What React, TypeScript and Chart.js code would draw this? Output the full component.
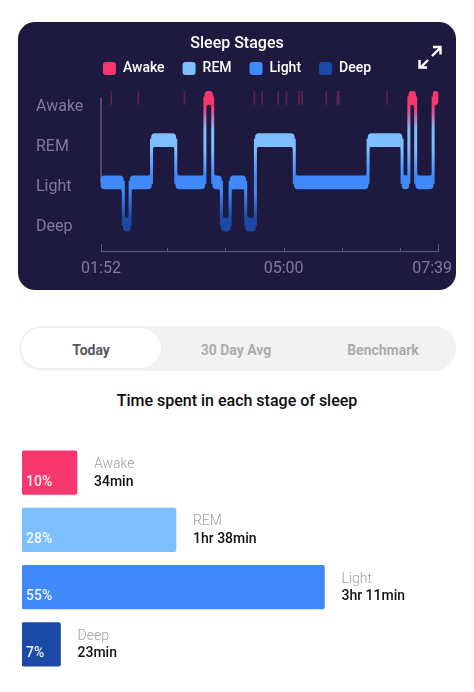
import React, { useEffect, useRef } from "react";
import { Chart, registerables } from "chart.js";

Chart.register(...registerables);

// ---- data -----
const stageNames = ["Deep", "Light", "REM", "Awake"];
const legendOrder = ["Awake", "REM", "Light", "Deep"];
const stageColors: Record<string, string> = {
  Awake: "#f7386f",
  REM: "#7dbeff",
  Light: "#4089fb",
  Deep: "#1a4aa5",
};
// minutes since midnight at which each sleep segment starts
const segmentStarts = [112, 135, 142, 164, 189, 219, 227, 236, 245, 261, 271, 311, 387, 422, 429, 436, 454];
const segmentStages = ["Light", "Deep", "Light", "REM", "Light", "Awake", "Light", "Deep", "Light", "Deep", "REM", "Light", "REM", "Light", "Awake", "Light", "Awake"];
const sessionEnd = 459;
const briefAwakeStarts = [122, 150, 197.5, 269.5, 277.5, 294, 302.5, 315.5, 318.5, 343.5, 355, 406];
const briefAwakeLengths = [1, 1, 1, 1, 1, 1, 1, 1, 1, 1, 2.4, 1];
const hourTicks = [112, 180, 240, 300, 360, 420, 459];
const timeLabels: Record<number, string> = { 112: "01:52", 300: "05:00", 453: "07:39" };

const summaryStages = ["Awake", "REM", "Light", "Deep"];
const summaryPercents = [10, 28, 55, 7];
const summaryDurations = ["34min", "1hr 38min", "3hr 11min", "23min"];

const tabs = ["Today", "30 Day Avg", "Benchmark"];

const level = (s: string) => stageNames.indexOf(s);
const segEnd = (i: number) => (i + 1 < segmentStarts.length ? segmentStarts[i + 1] : sessionEnd);

const bandHeight = 13;
const connectorWidth = 3;

const upTicksPlugin = {
  id: "upTicks",
  afterDatasetsDraw(chart: any) {
    const x = chart.scales.x;
    const bottom = chart.chartArea.bottom;
    const c = chart.ctx;
    c.save();
    c.strokeStyle = "#5f5b7c";
    c.lineWidth = 1;
    hourTicks.forEach((t, i) => {
      const px = Math.round(x.getPixelForValue(t)) + 0.5;
      const len = i === 0 || i === hourTicks.length - 1 ? 7 : 3;
      c.beginPath();
      c.moveTo(px, bottom);
      c.lineTo(px, bottom - len);
      c.stroke();
    });
    c.restore();
  },
};

// concave shoulders where each vertical connector meets the two bands
const filletPlugin = {
  id: "fillets",
  afterDatasetsDraw(chart: any) {
    const xs = chart.scales.x;
    const ys = chart.scales.yData;
    const c = chart.ctx;
    const r = 4;
    const corner = (x: number, y: number, dirX: number, dirY: number, colour: string) => {
      c.fillStyle = colour;
      c.beginPath();
      c.moveTo(x, y);
      c.lineTo(x + dirX * r, y);
      c.quadraticCurveTo(x, y, x, y + dirY * r);
      c.closePath();
      c.fill();
    };
    c.save();
    for (let i = 1; i < segmentStarts.length; i++) {
      const prev = segmentStages[i - 1];
      const cur = segmentStages[i];
      const px = xs.getPixelForValue(segmentStarts[i]);
      const curIsUpper = level(cur) > level(prev);
      const upper = curIsUpper ? cur : prev;
      const lower = curIsUpper ? prev : cur;
      const upperSide = curIsUpper ? 1 : -1;
      const upperY = ys.getPixelForValue(level(upper)) + bandHeight / 2 - 0.3;
      const lowerY = ys.getPixelForValue(level(lower)) - bandHeight / 2 + 0.3;
      corner(px + (upperSide * connectorWidth) / 2 - upperSide * 0.2, upperY, upperSide, 1, stageColors[upper]);
      corner(px - (upperSide * connectorWidth) / 2 + upperSide * 0.2, lowerY, -upperSide, -1, stageColors[lower]);
    }
    c.restore();
  },
};

const barTextPlugin = {
  id: "barText",
  afterDatasetsDraw(chart: any) {
    const c = chart.ctx;
    const bars = chart.getDatasetMeta(0).data;
    c.save();
    c.textBaseline = "middle";
    c.textAlign = "left";
    bars.forEach((b: any, i: number) => {
      c.fillStyle = "rgba(255,255,255,0.92)";
      c.font = "500 14px Roboto";
      c.fillText(summaryPercents[i] + "%", b.base + 4, b.y + 9.5);
      c.fillStyle = "#a0a0a0";
      c.font = "300 14px Roboto";
      c.fillText(summaryStages[i], b.x + 17, b.y - 8);
      c.fillStyle = "#111111";
      c.font = "500 14px Roboto";
      c.fillText(summaryDurations[i], b.x + 17, b.y + 9.5);
    });
    c.restore();
  },
};

function connectorGradient(ctx: any) {
  const chart = ctx.chart;
  const y = chart.scales.yData;
  if (!chart.chartArea || !y) return "#4089fb";
  const top = y.getPixelForValue(3);
  const bottom = y.getPixelForValue(0);
  const g = chart.ctx.createLinearGradient(0, top, 0, bottom);
  g.addColorStop(0, stageColors.Awake);
  g.addColorStop(0.07, stageColors.Awake);
  g.addColorStop(0.25, stageColors.REM);
  g.addColorStop(0.4, stageColors.REM);
  g.addColorStop(0.62, stageColors.Light);
  g.addColorStop(0.75, stageColors.Light);
  g.addColorStop(0.95, stageColors.Deep);
  return g;
}

export default function App() {
  const topRef = useRef<HTMLCanvasElement>(null);
  const bottomRef = useRef<HTMLCanvasElement>(null);

  useEffect(() => {
    const barCommon = {
      type: "bar",
      indexAxis: "y",
      grouped: false,
      barThickness: bandHeight,
      borderRadius: 4,
      borderSkipped: false,
      xAxisID: "x",
      yAxisID: "yData",
      clip: false,
      order: 1,
    };
    const stageSets = legendOrder.map((name) => ({
      ...barCommon,
      label: name,
      backgroundColor: stageColors[name],
      data: segmentStarts
        .map((s, i) => ({ s, i }))
        .filter(({ i }) => segmentStages[i] === name)
        .map(({ s, i }) => ({ x: [s, segEnd(i)], y: level(name) })),
    }));
    const top = new Chart(topRef.current!, {
      type: "bar",
      data: {
        datasets: [
          ...stageSets,
          {
            ...barCommon,
            label: "Brief awake",
            backgroundColor: "rgba(247,56,111,0.3)",
            borderRadius: 0,
            data: briefAwakeStarts.map((s, i) => ({ x: [s, s + briefAwakeLengths[i]], y: level("Awake") })),
          },
          {
            type: "line",
            label: "Transitions",
            xAxisID: "x",
            yAxisID: "yData",
            stepped: "before",
            borderWidth: connectorWidth,
            borderColor: connectorGradient,
            pointRadius: 0,
            clip: false,
            order: 2,
            data: [
              ...segmentStarts.map((s, i) => ({ x: s, y: level(segmentStages[i]) })),
              { x: sessionEnd, y: level(segmentStages[segmentStages.length - 1]) },
            ],
          },
          {
            type: "line",
            label: "Onset",
            xAxisID: "x",
            yAxisID: "yData",
            borderWidth: 1,
            borderColor: "rgba(190,150,200,0.3)",
            pointRadius: 0,
            clip: false,
            order: 3,
            data: [
              { x: segmentStarts[0], y: level("Awake") },
              { x: segmentStarts[0], y: level("Light") },
            ],
          },
        ] as any,
      },
      options: {
        responsive: false,
        animation: false,
        layout: { padding: { left: 36, right: 36, top: 34.5, bottom: 19 } },
        events: [],
        plugins: {
          tooltip: { enabled: false },
          title: {
            display: true,
            text: "Sleep Stages",
            color: "#ffffff",
            font: { family: "Roboto", size: 16, weight: "500" },
            padding: { top: 0, bottom: -10.2 },
          },
          legend: {
            display: true,
            position: "top",
            labels: {
              color: "#ffffff",
              font: { family: "Roboto", size: 14, weight: "500" },
              boxWidth: 13,
              boxHeight: 13,
              padding: 18,
              useBorderRadius: true,
              borderRadius: 3,
              generateLabels: () =>
                legendOrder.map((name) => ({
                  text: name,
                  fillStyle: stageColors[name],
                  strokeStyle: "transparent",
                  lineWidth: 0,
                  fontColor: "#ffffff",
                  borderRadius: 3,
                })),
            },
          },
        },
        scales: {
          x: {
            type: "linear",
            offset: false,
            min: 112,
            max: sessionEnd,
            grid: { display: false, offset: false },
            border: { display: true, color: "#5f5b7c", width: 1 },
            afterBuildTicks: (s: any) => {
              s.ticks = Object.keys(timeLabels).map((v) => ({ value: Number(v) }));
            },
            afterFit: (s: any) => {
              s.height = 30;
            },
            ticks: {
              autoSkip: false,
              maxRotation: 0,
              padding: 0,
              color: "#7f7a9a",
              font: { family: "Roboto", size: 16 },
              callback: (v: any) => timeLabels[v] ?? "",
            },
          },
          yData: {
            type: "linear",
            display: false,
            offset: false,
            grid: { offset: false },
            min: -0.626,
            max: 3.295,
          },
          yLabels: {
            type: "linear",
            position: "left",
            offset: false,
            min: -0.6,
            max: 3.55,
            grid: { display: false, drawTicks: false, offset: false },
            border: { display: false },
            afterBuildTicks: (s: any) => {
              s.ticks = stageNames.map((_, i) => ({ value: i }));
            },
            afterFit: (s: any) => {
              s.width = 65;
            },
            ticks: {
              autoSkip: false,
              crossAlign: "far",
              color: "#7f7a9a",
              font: { family: "Roboto", size: 16 },
              callback: (v: any) => stageNames[v] ?? "",
            },
          },
        },
      } as any,
      plugins: [upTicksPlugin, filletPlugin],
    } as any);

    const bottom = new Chart(bottomRef.current!, {
      type: "bar",
      data: {
        labels: summaryStages,
        datasets: [
          {
            label: "Share of sleep",
            data: summaryPercents,
            backgroundColor: summaryStages.map((s) => stageColors[s]),
            barThickness: 43.5,
            borderRadius: 2,
            borderSkipped: false,
          },
        ],
      },
      options: {
        indexAxis: "y",
        responsive: false,
        animation: false,
        events: [],
        layout: { padding: { left: 22, top: 4, bottom: 7, right: 0 } },
        plugins: { legend: { display: false }, tooltip: { enabled: false }, title: { display: false } },
        scales: {
          x: { display: false, min: 0, max: 82.2 },
          y: { display: false },
        },
      } as any,
      plugins: [barTextPlugin],
    } as any);

    return () => {
      top.destroy();
      bottom.destroy();
    };
  }, []);

  const tabCentres = [91, 236, 383];
  return (
    <div style={{ position: "absolute", left: 0, top: 0, width: 474, height: 692, background: "#fff", overflow: "hidden", fontFamily: "Roboto" }}>
      <div style={{ position: "absolute", left: 18, top: 22, width: 438, height: 268, borderRadius: 17, background: "#1e1a3f" }} />
      <canvas ref={topRef} width={474} height={300} style={{ position: "absolute", left: 0, top: 0, width: 474, height: 300 }} />
      <svg width={30} height={30} viewBox="0 0 30 30" style={{ position: "absolute", left: 415, top: 42 }} fill="none" stroke="#fff" strokeWidth={2.4}>
        <path d="M5 26 L13 18 M4.5 18 V25.5 H12" />
        <path d="M26 5 L17 14 M18 5 H25.5 V12.5" />
      </svg>

      <div style={{ position: "absolute", left: 19, top: 326, width: 437, height: 45, borderRadius: 23, background: "#f2f2f2" }} />
      <div style={{ position: "absolute", left: 21, top: 328, width: 140, height: 40, borderRadius: 20, background: "#fff", boxShadow: "0 0 2px rgba(0,0,0,0.08)" }} />
      {tabs.map((t, i) => (
        <div
          key={t}
          style={{
            position: "absolute",
            left: tabCentres[i] - 60,
            width: 120,
            top: 341,
            height: 18,
            lineHeight: "18px",
            textAlign: "center",
            fontWeight: 700,
            fontSize: 14,
            color: i === 0 ? "#55585c" : "#ababab",
          }}
        >
          {t}
        </div>
      ))}
      <div style={{ position: "absolute", left: 0, width: 474, top: 391, height: 20, lineHeight: "20px", textAlign: "center", fontSize: 16, fontWeight: 500, color: "#0c0c0c" }}>
        Time spent in each stage of sleep
      </div>
      <canvas ref={bottomRef} width={474} height={240} style={{ position: "absolute", left: 0, top: 440, width: 474, height: 240 }} />
    </div>
  );
}
